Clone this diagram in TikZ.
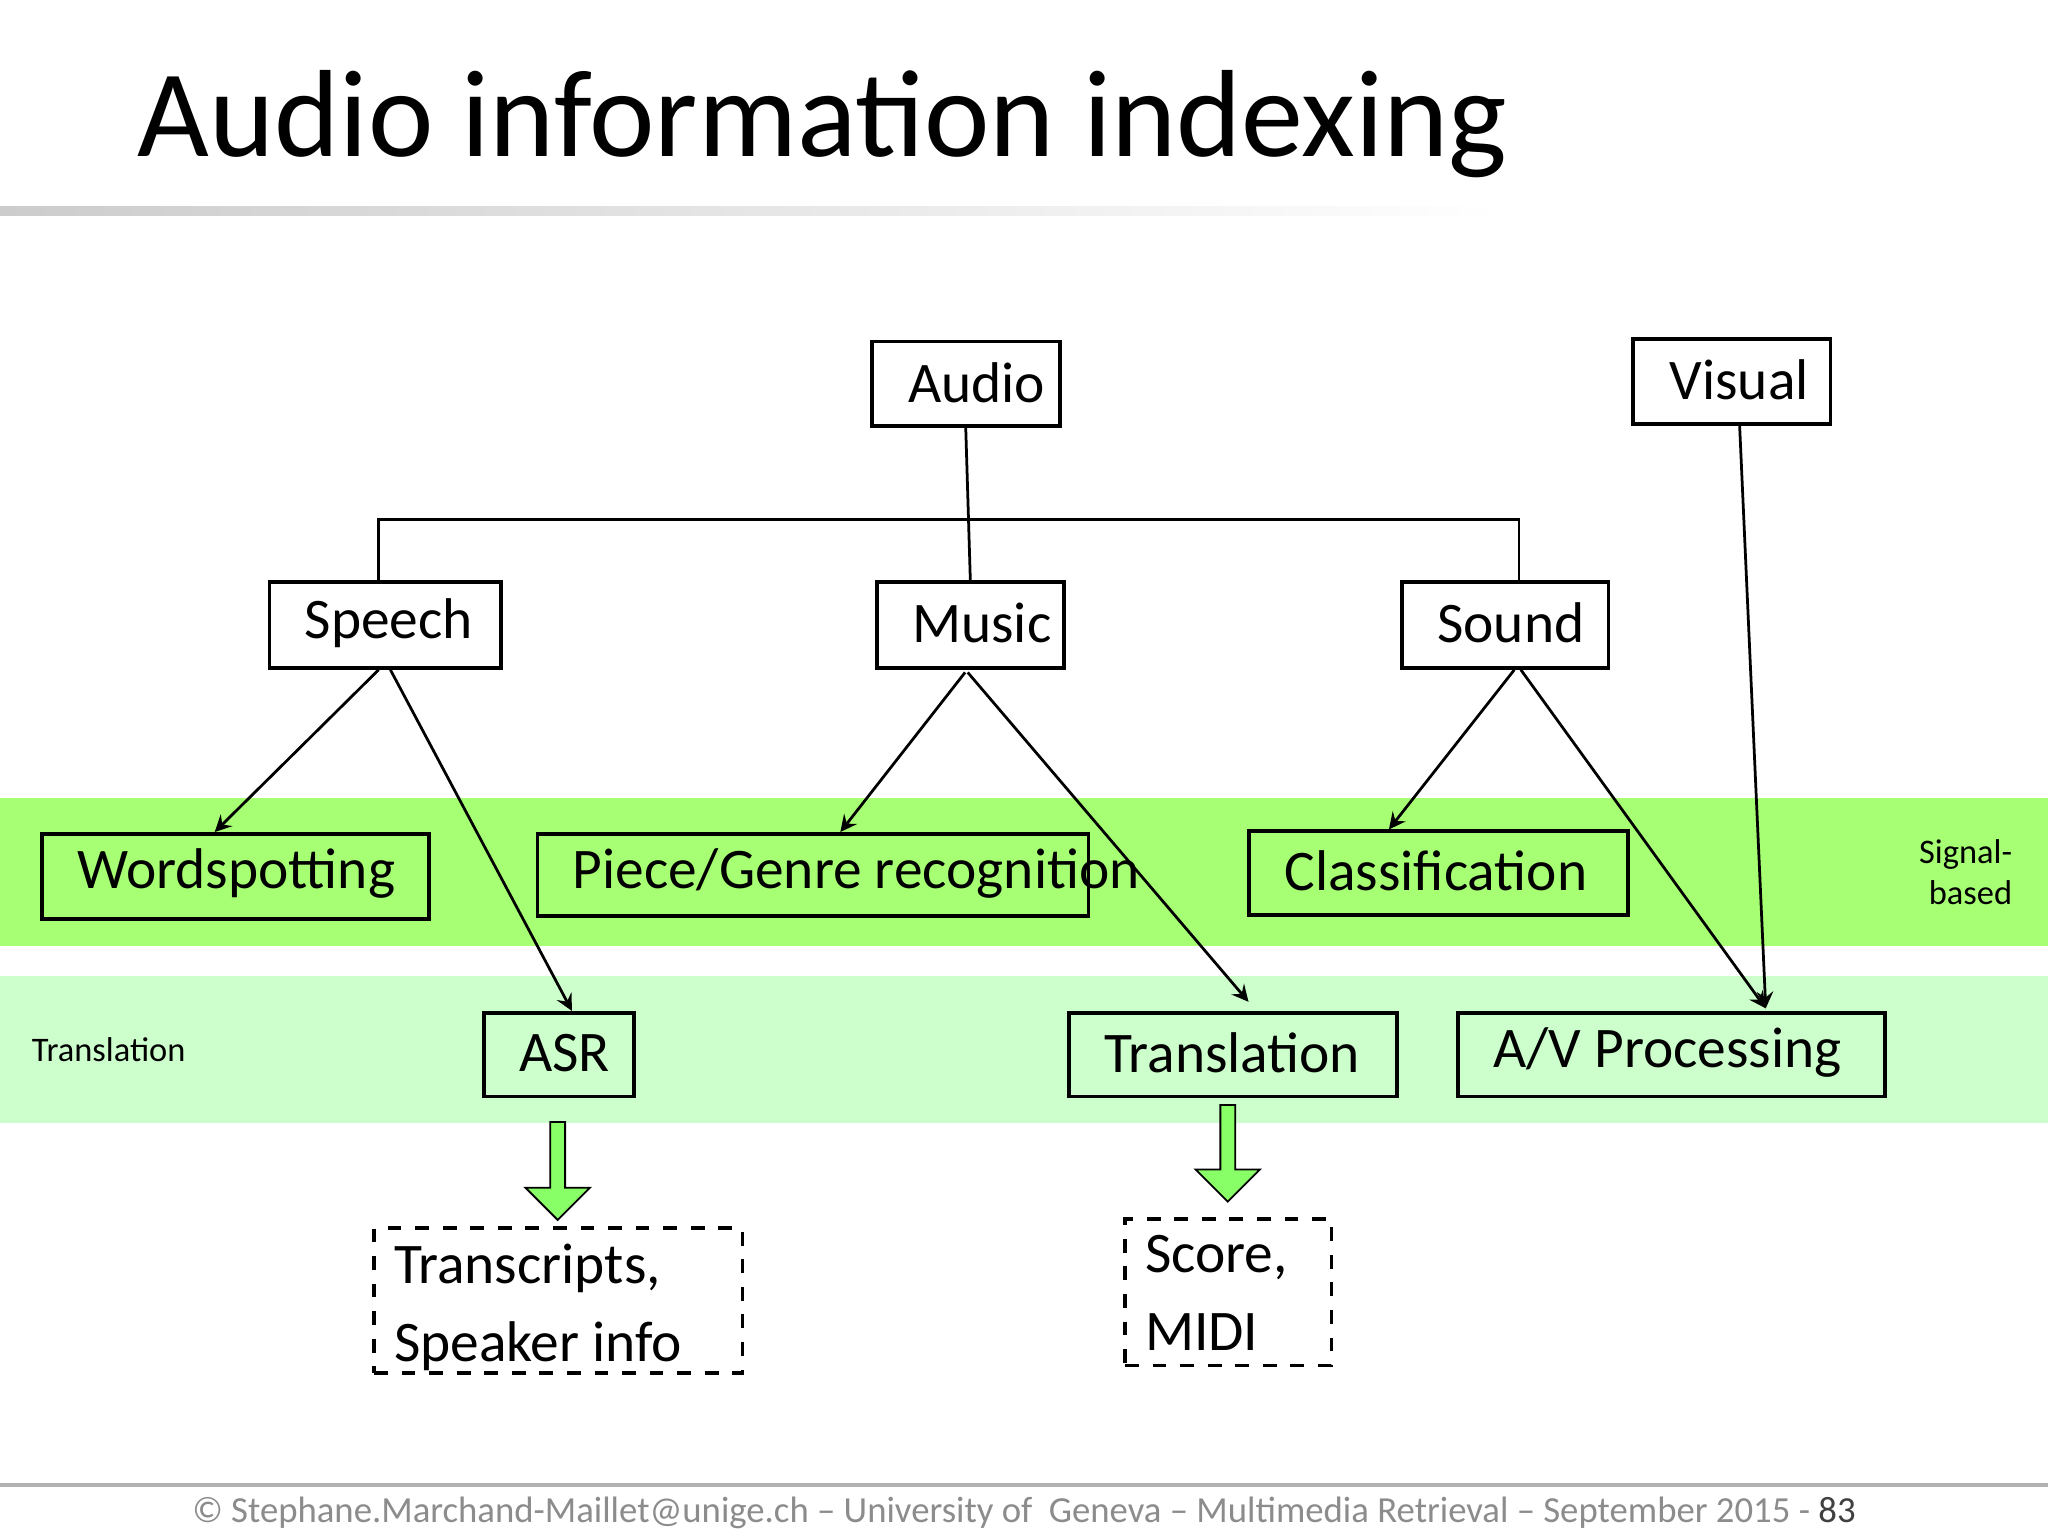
\documentclass[tikz,border=0pt]{standalone}
\usepackage{fontspec}
\setmainfont{Carlito}
\usetikzlibrary{calc,shapes.arrows}
\begin{document}
\begin{tikzpicture}[x=0.01cm,y=-0.01cm,
 box/.style={draw,line width=0.8pt,inner sep=0pt,font=\fontsize{12.5}{15}\selectfont,anchor=north west,align=left},
 dbox/.style={box,dashed},
 con/.style={line width=0.6pt},
 arr/.style={con,-stealth},
 barr/.style={single arrow,draw,fill=green!70!lime!60,single arrow head extend=4pt,minimum width=14pt,shape border rotate=270,inner sep=1pt}]
\useasboundingbox (0,0) rectangle (1568,1176);
\fill[white] (0,0) rectangle (1568,1176);
\shade[left color=black!20,right color=white] (0,158) rectangle (1150,165);
\node[anchor=base west,font=\fontsize{27}{30}\selectfont] (title) at (93,120) {Audio information indexing};
\fill[green!50!lime!55] (0,611) rectangle (1568,724);
\fill[green!20] (0,747) rectangle (1568,860);
\newcommand{\bx}[6]{\node[#1,minimum width=#4*0.01cm-#2*0.01cm,minimum height=#5*0.01cm-#3*0.01cm,text width=#4*0.01cm-#2*0.01cm-34pt] (#6) at (#2,#3) {};}
\node[box,minimum width=144*0.01cm,minimum height=65*0.01cm] (audio) at (666,260) {};
\node[font=\fontsize{12.5}{15}\selectfont,anchor=west] at (683,293) {Audio};
\node[box,minimum width=151*0.01cm,minimum height=65*0.01cm] (visual) at (1249,258) {};
\node[font=\fontsize{12.5}{15}\selectfont,anchor=west] at (1266,291) {Visual};
\node[box,minimum width=177*0.01cm,minimum height=66*0.01cm] (speech) at (205,444) {};
\node[font=\fontsize{12.5}{15}\selectfont,anchor=west] at (221,477) {Speech};
\node[box,minimum width=143*0.01cm,minimum height=66*0.01cm] (music) at (670,444) {};
\node[font=\fontsize{12.5}{15}\selectfont,anchor=west] at (686,477) {Music};
\node[box,minimum width=158*0.01cm,minimum height=66*0.01cm] (sound) at (1072,444) {};
\node[font=\fontsize{12.5}{15}\selectfont,anchor=west] at (1088,477) {Sound};
\node[box,minimum width=296*0.01cm,minimum height=65*0.01cm] (word) at (31,637) {};
\node[font=\fontsize{12.5}{15}\selectfont,anchor=west] at (47,669) {Wordspotting};
\node[box,minimum width=422*0.01cm,minimum height=63*0.01cm] (piece) at (410,637) {};
\node[font=\fontsize{12.5}{15}\selectfont,anchor=west] at (426,669) {Piece/Genre recognition};
\node[box,minimum width=290*0.01cm,minimum height=64*0.01cm] (class) at (955,635) {};
\node[font=\fontsize{12.5}{15}\selectfont,anchor=west] at (971,667) {Classification};
\node[box,minimum width=115*0.01cm,minimum height=64*0.01cm] (asr) at (369,774) {};
\node[font=\fontsize{12.5}{15}\selectfont,anchor=west] at (385,806) {ASR};
\node[box,minimum width=251*0.01cm,minimum height=64*0.01cm] (trans) at (817,774) {};
\node[font=\fontsize{12.5}{15}\selectfont,anchor=west] at (833,806) {Translation};
\node[box,minimum width=327*0.01cm,minimum height=64*0.01cm] (av) at (1115,774) {};
\node[font=\fontsize{12.5}{15}\selectfont,anchor=west] at (1131,806) {A/V Processing};
\node[dbox,minimum width=282*0.01cm,minimum height=111*0.01cm] (tr) at (285,939) {};
\node[font=\fontsize{12.5}{17}\selectfont,anchor=north west,align=left,inner sep=0pt] at (301,952) {Transcripts,\\Speaker info};
\node[dbox,minimum width=158*0.01cm,minimum height=112*0.01cm] (score) at (860,932) {};
\node[font=\fontsize{12.5}{17}\selectfont,anchor=north west,align=left,inner sep=0pt] at (876,945) {Score,\\MIDI};
% tree
\coordinate (hl) at (290,398); \coordinate (hr) at (1163,398);
\draw[con] (audio.south) -- (music.north);
\draw[con] (speech.north -| hl) -- (hl) -- (hr) -- (sound.north -| hr);
% arrows
\draw[arr] ($(speech.south)+(-5,0)$) -- ($(word.north)+(-16,0)$);
\draw[arr] ($(speech.south)+(4,0)$) -- ($(asr.north)+(10,0)$);
\draw[arr] ($(music.south)+(-4,2)$) -- ($(piece.north)+(21,0)$);
\draw[arr] ($(music.south)+(-2,2)$) -- ($(trans.north)+(12,-7)$);
\draw[arr] ($(sound.south)+(7,0)$) -- ($(class.north)+(-38,0)$);
\draw[arr] ($(sound.south)+(12,0)$) -- ($(av.north)+(72,-2)$);
\draw[arr] ($(visual.south)+(6,0)$) -- ($(av.north)+(72,-2)$);
% block arrows
\node[barr,minimum height=75*0.01cm,anchor=tip] (b1) at (427,935) {};
\node[barr,minimum height=74*0.01cm,anchor=tip] (b2) at (940,921) {};
% side labels
\node[font=\fontsize{7.5}{9}\selectfont,align=right,anchor=east] (sl) at (1553,668) {Signal-\\based};
\node[font=\fontsize{7.5}{9}\selectfont,anchor=west] (tl) at (12,804) {Translation};
% footer
\draw[black!30,line width=0.8pt] (0,1137) -- (1568,1137);
\node[font=\fontsize{8}{10}\selectfont,text=black!45,anchor=base] (ft) at (784,1166) {© Stephane.Marchand-Maillet@unige.ch – University of~ Geneva – Multimedia Retrieval – September 2015 - \textcolor{black!75}{83}};
\end{tikzpicture}
\end{document}
